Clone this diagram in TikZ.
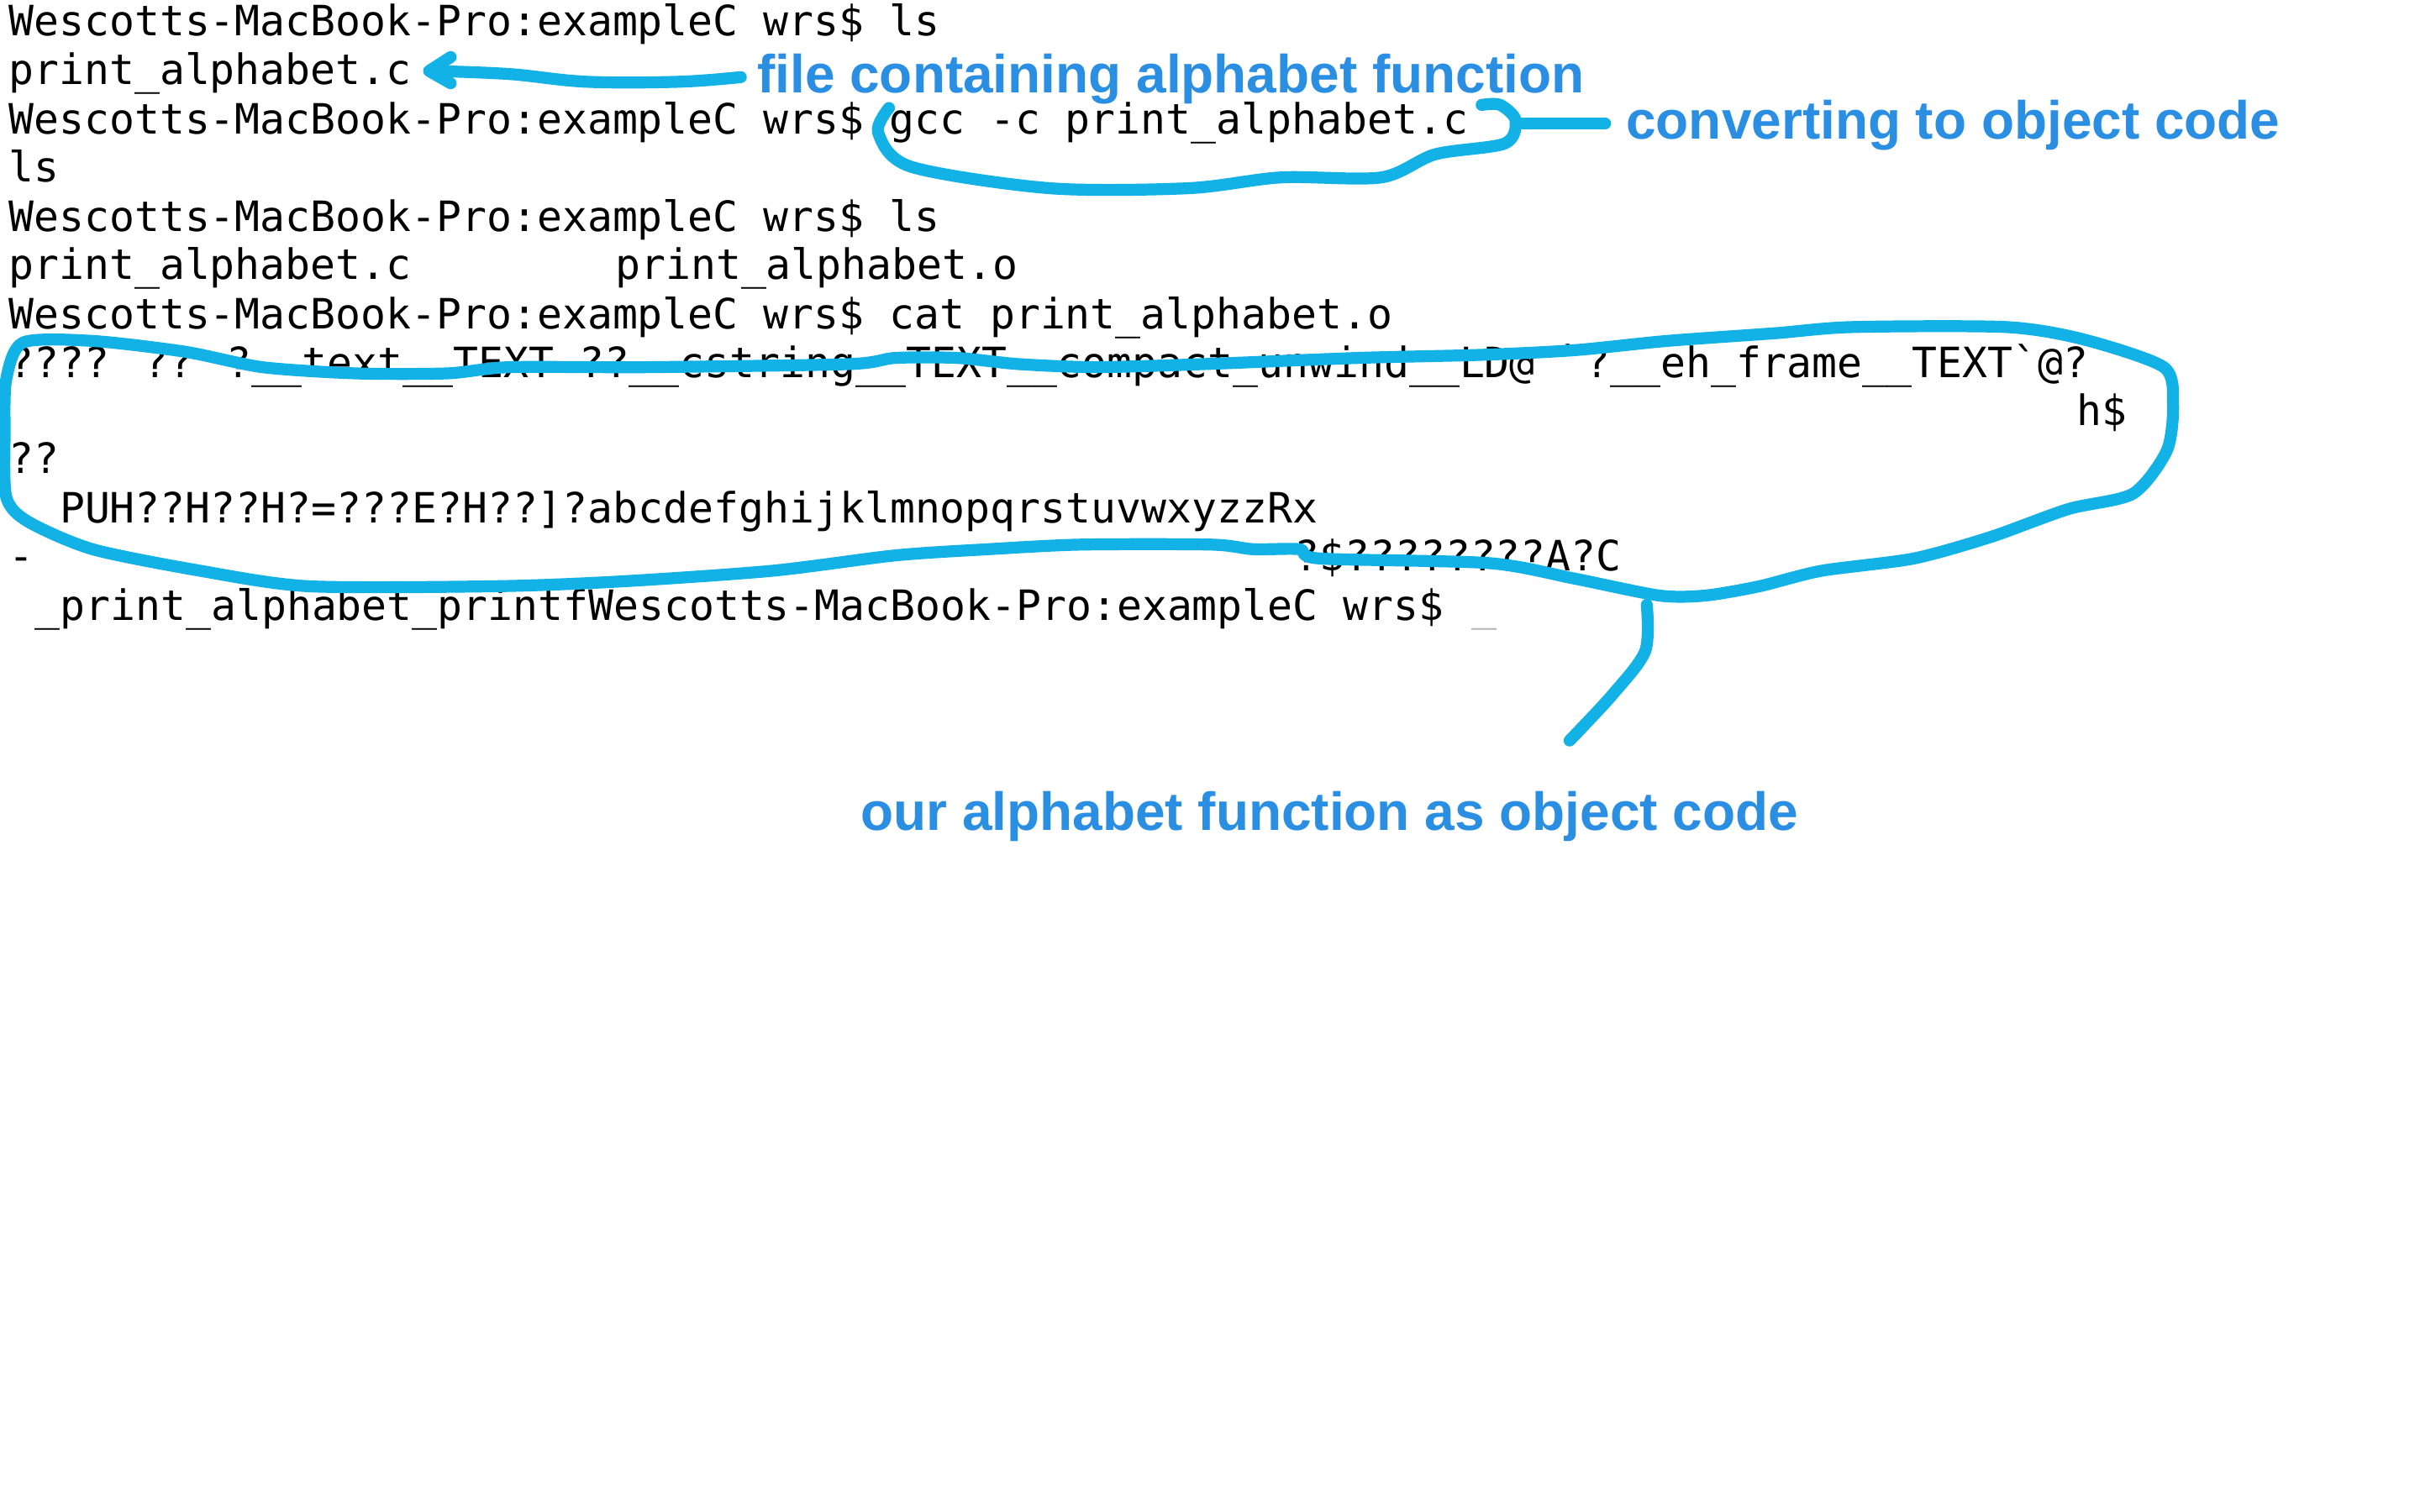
\documentclass[tikz,border=0pt]{standalone}
\usepackage{fontspec}
\setmainfont{Liberation Sans}
\newfontfamily\termfont{DejaVu Sans Mono}
\definecolor{strk}{HTML}{12B2E6}
\definecolor{ann}{HTML}{2A8FE3}
\tikzset{
  term/.style={anchor=base west,inner sep=0pt,font=\termfont\fontsize{7.7}{9}\selectfont},
  note/.style={anchor=base west,inner sep=0pt,text=ann,font=\bfseries\fontsize{9.9}{12}\selectfont},
  pen/.style={strk,line width=2.2pt,line cap=round,line join=round}
}
\begin{document}
\begin{tikzpicture}[x=0.01cm,y=-0.01cm]
\useasboundingbox[fill=white] (0,0) rectangle (1568,980);
\def\tl#1#2#3#4{\node[term] (#1) at (#2,#3) {\obeyspaces#4};}
\tl{l1}{5}{23}{Wescotts-MacBook-Pro:exampleC wrs\$ ls}
\tl{l2}{5}{55}{print\_alphabet.c}
\tl{l3}{5}{87}{Wescotts-MacBook-Pro:exampleC wrs\$ gcc -c print\_alphabet.c}
\tl{l4}{5}{118}{ls}
\tl{l5}{5}{150}{Wescotts-MacBook-Pro:exampleC wrs\$ ls}
\tl{l6a}{5}{181}{print\_alphabet.c}
\tl{l6b}{398}{181}{print\_alphabet.o}
\tl{l7}{5}{213}{Wescotts-MacBook-Pro:exampleC wrs\$ cat print\_alphabet.o}
\tl{l8}{5}{245}{???? ?? ?\_\_text\_\_TEXT ??\_\_cstring\_\_TEXT\_\_compact\_unwind\_\_LD@ `?\_\_eh\_frame\_\_TEXT`@?}
\tl{l9}{1345}{276}{h\$}
\tl{l10}{5}{307}{??}
\tl{l11}{38}{339}{PUH??H??H?=???E?H??]?abcdefghijklmnopqrstuvwxyzzRx}
\tl{l12a}{5}{370}{-}
\tl{l12b}{838}{370}{?\$????????A?C}
\tl{l13}{22}{402}{\_print\_alphabet\_printfWescotts-MacBook-Pro:exampleC wrs\$}
\node[term,text=gray!60] (cur) at (953,402) {\_};
\node[note] (n1) at (490,60) {file containing alphabet function};
\node[note] (n2) at (1053,90) {converting to object code};
\node[note] (n3) at (557,538) {our alphabet function as object code};
% arrow to print_alphabet.c
\draw[pen] plot[smooth,tension=0.6] coordinates {(480,50) (440,53) (380,53) (330,48) (280,46)};
\draw[pen] (292,37) -- (278,46) -- (292,54);
% gcc loop
\draw[pen] plot[smooth,tension=0.5] coordinates {(576,70) (569,86) (590,108) (680,122) (770,122) (830,115) (895,115) (930,100) (975,93) (982,78) (972,68) (960,68)};
\draw[pen] (982,80) -- (1040,80);
% big loop
\draw[pen] plot[smooth cycle,tension=0.45] coordinates {(15,222) (60,221) (120,228) (170,238) (230,242) (290,242) (330,238) (420,238) (550,236) (580,232) (620,232) (660,236) (710,238) (780,236) (880,232) (960,230) (1020,227) (1080,221) (1150,216) (1200,212) (1300,212) (1350,220) (1402,238) (1408,262) (1404,292) (1382,320) (1340,330) (1290,348) (1240,362) (1180,370) (1140,380) (1105,386) (1075,386) (1020,375) (965,365) (855,362) (842,356) (812,356) (785,353) (700,353) (640,356) (580,360) (500,370) (400,377) (320,380) (200,380) (130,370) (60,356) (18,338) (4,322) (3,280) (4,246)};
\draw[pen] plot[smooth,tension=0.5] coordinates {(1067,392) (1066,422) (1045,450) (1017,480)};
\end{tikzpicture}
\end{document}
